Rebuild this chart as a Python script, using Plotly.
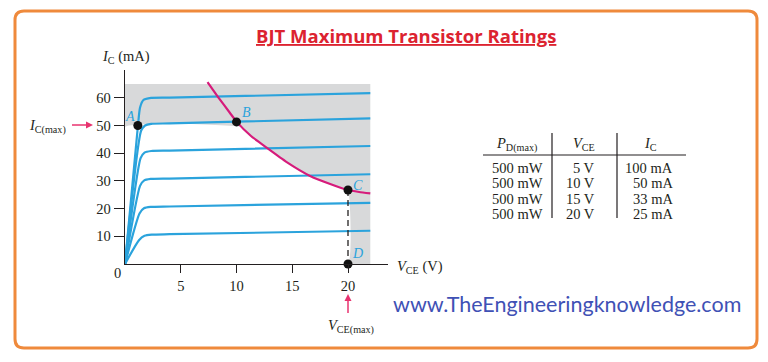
import numpy as np
import plotly.graph_objects as go

W, H = 768, 362

# ---------------- data ----------------
# collector characteristic curves (V_CE in V, I_C in mA)
v_c10 = [0, 1.25, 1.75, 2.4, 4.0, 22]
i_c10 = [0, 8.6, 10.2, 10.6, 10.75, 12.0]
v_c20 = [0, 1.3, 1.7, 2.3, 4.0, 22]
i_c20 = [0, 18.2, 20.1, 20.6, 20.75, 22.1]
v_c30 = [0, 1.35, 1.7, 2.3, 4.0, 22]
i_c30 = [0, 28.2, 30.1, 30.7, 30.85, 32.4]
v_c40 = [0, 1.4, 1.75, 2.35, 4.0, 22]
i_c40 = [0, 38.2, 40.2, 40.8, 40.95, 42.6]
v_c50 = [0, 1.45, 1.8, 2.35, 4.0, 22]
i_c50 = [0, 48.2, 50.0, 50.6, 50.75, 52.6]
v_c60 = [0, 1.15, 1.35, 1.65, 2.2, 4.0, 22]
i_c60 = [0, 49.5, 56.5, 59.2, 59.9, 60.05, 61.7]

# max power dissipation curve
pd_v = [7.4, 8.4, 9.4, 10.0, 11.3, 12.7, 14.5, 16.6, 18.4, 20.0, 21.0, 22.0]
pd_i = [65.7, 60.0, 54.6, 51.4, 46.2, 42.0, 36.8, 31.8, 28.9, 26.7, 26.0, 25.5]

# labelled points
pt_names = ["A", "B", "C", "D"]
pt_v = [1.15, 10.0, 20.0, 20.0]
pt_i = [50.0, 51.3, 26.7, 0.0]

ic_max = 49.5          # I_C(max) band bottom
vce_max = 20.0         # V_CE(max)
v_shade = 22.0         # right edge of shaded area
i_shade = 65.0         # top of shaded area

x_ticks = [5, 10, 15, 20]
y_ticks = [10, 20, 30, 40, 50, 60]

# table
tbl_pd_mw = [500, 500, 500, 500]
tbl_vce_v = [5, 10, 15, 20]
tbl_ic_ma = [100, 50, 33, 25]

# ---------------- styling ----------------
SERIF = "Liberation Serif"
INK = "#231f20"
BLUE = "#2ba3dc"
PINK = "#d61b7b"
ARROW_PINK = "#e8336f"
GRAY = "#d8d9da"
ORANGE = "#ef8a3c"

# geometry of the chart (pixels)
ox, oy = 125, 264
sx, sy = 11.15, 2.77
x_rng = [0, 23.6]
y_rng = [0, 70]

def px(x):
    return x / W

def py(y):
    return 1 - y / H

fig = go.Figure()

# white "safe" operating area on top of the grey shading
x_cross = float(np.interp(ic_max, pd_i[::-1], pd_v[::-1]))
sel = [(v, i) for v, i in zip(pd_v, pd_i) if x_cross < v <= vce_max]
safe_x = [0, 0, x_cross] + [v for v, _ in sel] + [vce_max, 0]
safe_y = [0, ic_max, ic_max] + [i for _, i in sel] + [0, 0]
fig.add_trace(go.Scatter(x=safe_x, y=safe_y, fill="toself", fillcolor="white",
                         line=dict(width=0, shape="spline", smoothing=0.3), mode="lines",
                         hoverinfo="skip"))

# characteristic curves
for vv, ii in [(v_c10, i_c10), (v_c20, i_c20), (v_c30, i_c30),
               (v_c40, i_c40), (v_c50, i_c50), (v_c60, i_c60)]:
    fig.add_trace(go.Scatter(x=vv, y=ii, mode="lines",
                             line=dict(color=BLUE, width=2.2, shape="spline", smoothing=0.6),
                             hoverinfo="skip"))

# power curve
fig.add_trace(go.Scatter(x=pd_v, y=pd_i, mode="lines",
                         line=dict(color=PINK, width=2.2, shape="spline", smoothing=0.5),
                         hoverinfo="skip"))

# dashed V_CE(max) line from C to D
fig.add_trace(go.Scatter(x=[pt_v[2], pt_v[3]], y=[pt_i[2], pt_i[3]], mode="lines",
                         line=dict(color=INK, width=1.3, dash="6px,4px"), hoverinfo="skip"))

# points
fig.add_trace(go.Scatter(x=pt_v, y=pt_i, mode="markers",
                         marker=dict(color="#111111", size=9), cliponaxis=False,
                         hoverinfo="skip"))

# axis arrowheads (tip just past the end of each axis line)
fig.add_trace(go.Scatter(x=[x_rng[1] + 0.35], y=[0], mode="markers", cliponaxis=False,
                         marker=dict(symbol="arrow-right", size=9, color=INK, line=dict(width=0)),
                         hoverinfo="skip"))
fig.add_trace(go.Scatter(x=[0], y=[y_rng[1] + 1.2], mode="markers", cliponaxis=False,
                         marker=dict(symbol="arrow-up", size=9, color=INK, line=dict(width=0)),
                         hoverinfo="skip"))

# pink pointer arrows drawn on a pixel overlay axis
fig.add_trace(go.Scatter(x=[72, 87], y=[125, 125], mode="lines", xaxis="x2", yaxis="y2",
                         line=dict(color=ARROW_PINK, width=1.5), hoverinfo="skip"))
fig.add_trace(go.Scatter(x=[93], y=[125], mode="markers", xaxis="x2", yaxis="y2", cliponaxis=False,
                         marker=dict(symbol="arrow-right", size=7, color=ARROW_PINK, line=dict(width=0)),
                         hoverinfo="skip"))
fig.add_trace(go.Scatter(x=[348, 348], y=[313, 299], mode="lines", xaxis="x2", yaxis="y2",
                         line=dict(color=ARROW_PINK, width=1.5), hoverinfo="skip"))
fig.add_trace(go.Scatter(x=[348], y=[294], mode="markers", xaxis="x2", yaxis="y2", cliponaxis=False,
                         marker=dict(symbol="arrow-up", size=7, color=ARROW_PINK, line=dict(width=0)),
                         hoverinfo="skip"))

shapes = []
# grey shaded region
shapes.append(dict(type="rect", xref="x", yref="y", x0=0, x1=v_shade, y0=0, y1=i_shade,
                   fillcolor=GRAY, line=dict(width=0), layer="below"))

# rounded orange frame
L, R, T, B, r = 15, 757, 11, 348, 9
path = (f"M {px(L+r)},{py(T)} L {px(R-r)},{py(T)} Q {px(R)},{py(T)} {px(R)},{py(T+r)} "
        f"L {px(R)},{py(B-r)} Q {px(R)},{py(B)} {px(R-r)},{py(B)} "
        f"L {px(L+r)},{py(B)} Q {px(L)},{py(B)} {px(L)},{py(B-r)} "
        f"L {px(L)},{py(T+r)} Q {px(L)},{py(T)} {px(L+r)},{py(T)} Z")
shapes.append(dict(type="path", xref="paper", yref="paper", path=path,
                   line=dict(color=ORANGE, width=3), fillcolor="rgba(0,0,0,0)", layer="above"))

# table rules
shapes.append(dict(type="line", xref="paper", yref="paper", x0=px(483), x1=px(686),
                   y0=py(155), y1=py(155), line=dict(color=INK, width=1.2)))
for xv in [552, 617]:
    shapes.append(dict(type="line", xref="paper", yref="paper", x0=px(xv), x1=px(xv),
                       y0=py(133), y1=py(218), line=dict(color=INK, width=1.2)))

ann = []

def text(x, y, s, size=14, color=INK, xanchor="center", family=SERIF):
    ann.append(dict(x=px(x), y=py(y), xref="paper", yref="paper", text=s, showarrow=False,
                    xanchor=xanchor, yanchor="middle",
                    font=dict(family=family, size=size, color=color)))

# title and url
text(406, 35, "<b><u>BJT Maximum Transistor Ratings</u></b>", size=18.5, color="#dc2330",
     family="Open Sans")
text(567, 304, "www.TheEngineeringknowledge.com", size=21.5, color="#3f51b5", family="Lato")

# axis labels
text(126, 57, "<i>I</i><sub>C</sub> (mA)", size=14.5)
text(68, 126, "<i>I</i><sub>C(max)</sub>", size=14.5, xanchor="right")
text(395, 267, "<i>V</i><sub>CE</sub> (V)", size=14.5, xanchor="left")
text(351, 326, "<i>V</i><sub>CE(max)</sub>", size=14.5)
text(117, 273, "0", size=14.5)

# point labels
offs = [(-8, 9), (10, 9), (10, 5), (9, 11)]
for name, vv, ii, (dx, dy) in zip(pt_names, pt_v, pt_i, offs):
    ann.append(dict(x=vv, y=ii, xref="x", yref="y", text=f"<i>{name}</i>", showarrow=False,
                    xshift=dx, yshift=dy, font=dict(family=SERIF, size=14, color=BLUE)))

# table text
text(516, 144, "<i>P</i><sub>D(max)</sub>", size=14.5)
text(584, 144, "<i>V</i><sub>CE</sub>", size=14.5)
text(650, 144, "<i>I</i><sub>C</sub>", size=14.5)
row_y = [167.5, 183, 198.5, 214]
for yy, p, v, c in zip(row_y, tbl_pd_mw, tbl_vce_v, tbl_ic_ma):
    text(545, yy, f"{p} mW", size=14.5, xanchor="right")
    text(597, yy, f"{v} V", size=14.5, xanchor="right")
    text(675, yy, f"{c} mA", size=14.5, xanchor="right")

x0d, x1d = ox / W, (ox + sx * x_rng[1]) / W
y0d, y1d = (H - oy) / H, (H - (oy - sy * y_rng[1])) / H

fig.update_layout(
    width=W, height=H, margin=dict(l=0, r=0, t=0, b=0),
    paper_bgcolor="white", plot_bgcolor="rgba(0,0,0,0)", showlegend=False, hovermode=False,
    shapes=shapes, annotations=ann,
    xaxis=dict(domain=[x0d, x1d], range=x_rng, tickvals=x_ticks, ticks="outside", ticklen=8,
               tickcolor=INK, showline=True, linecolor=INK, linewidth=1.3, showgrid=False,
               zeroline=False, tickfont=dict(family=SERIF, size=14.5, color=INK), fixedrange=True),
    yaxis=dict(domain=[y0d, y1d], range=y_rng, tickvals=y_ticks, ticks="outside", ticklen=10,
               tickcolor=INK, showline=True, linecolor=INK, linewidth=1.3, showgrid=False,
               zeroline=False, tickfont=dict(family=SERIF, size=14.5, color=INK), fixedrange=True),
    xaxis2=dict(domain=[0, 1], range=[0, W], anchor="y2", visible=False, fixedrange=True),
    yaxis2=dict(domain=[0, 1], range=[H, 0], anchor="x2", visible=False, fixedrange=True),
)

fig.write_html("out.html", config={"displayModeBar": False, "staticPlot": True},
               post_script="document.body.style.margin='0px';")
